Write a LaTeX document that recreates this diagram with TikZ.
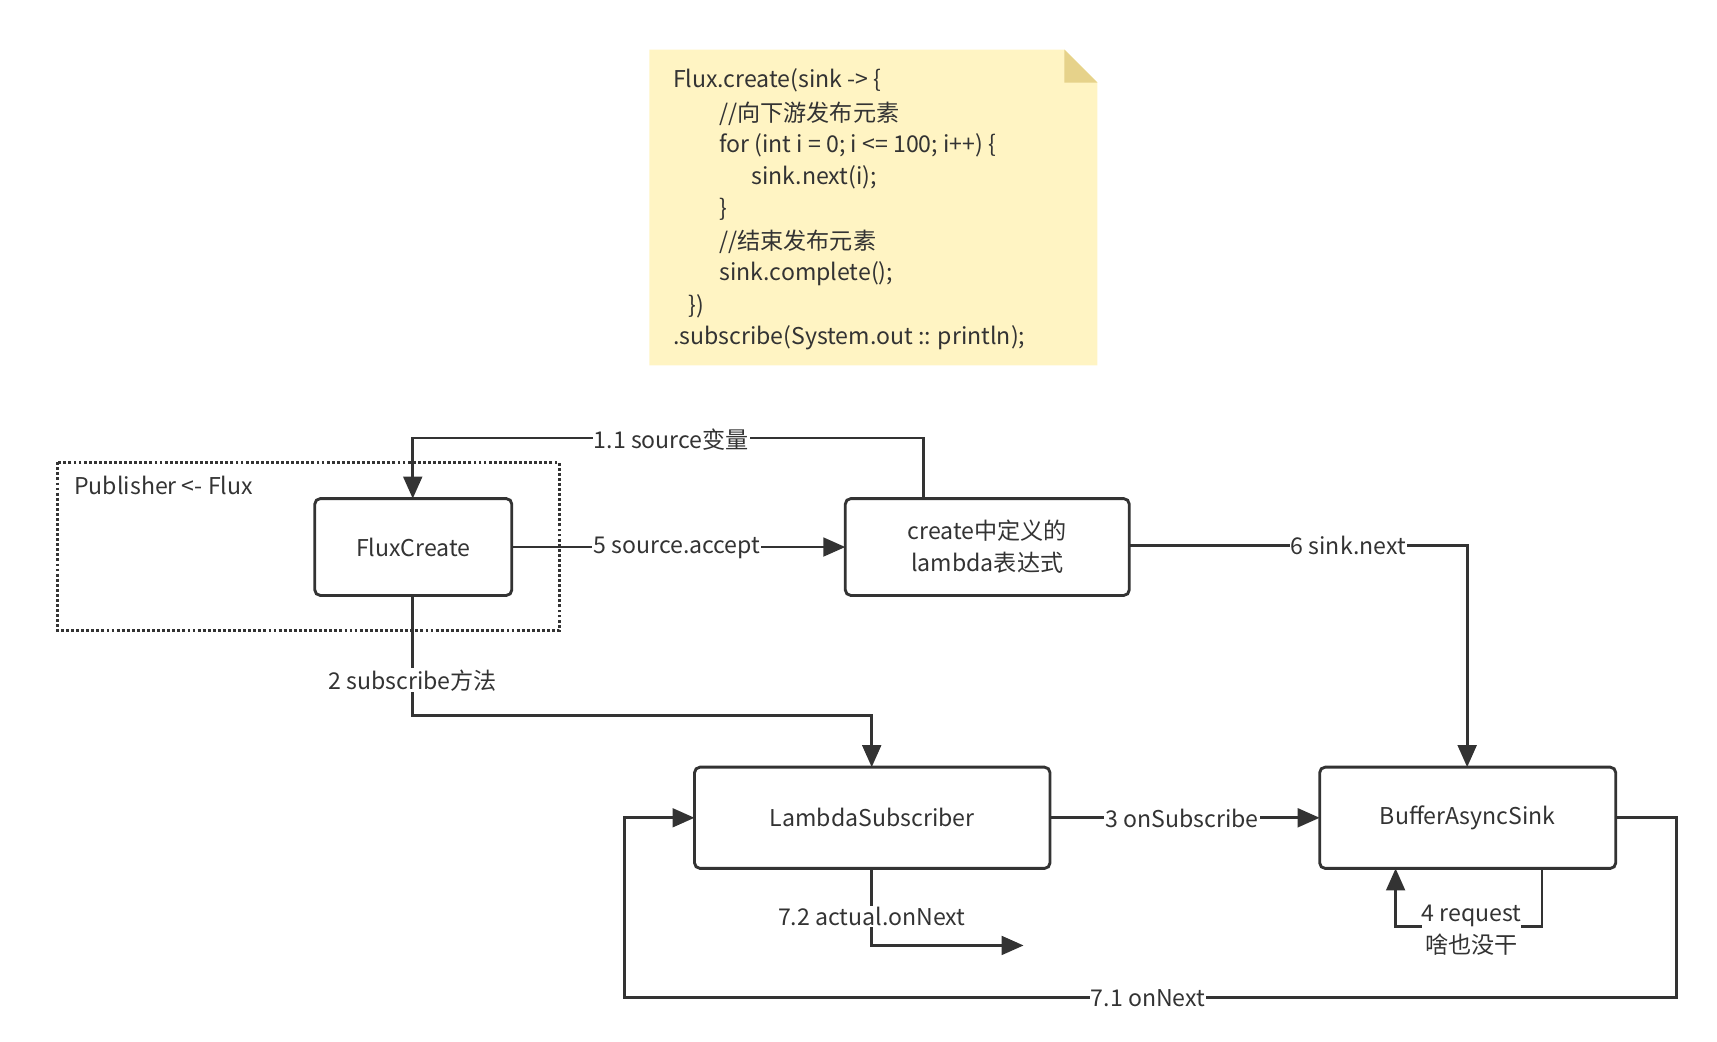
\documentclass[tikz,border=0pt]{standalone}
\usepackage{fontspec}
\setmainfont{Noto Sans CJK SC}
\usetikzlibrary{arrows.meta}
\definecolor{ink}{HTML}{333333}
\begin{document}
\begin{tikzpicture}[x=1pt,y=-1pt,
  every node/.style={font=\fontsize{21}{29}\selectfont, text=ink},
  box/.style={draw=ink, line width=2.6pt, rounded corners=5pt},
  conn/.style={draw=ink, line width=2.6pt},
  arr/.style={conn, -{Triangle[length=20pt,width=17pt]}},
  lbl/.style={fill=white, inner sep=1pt}]
\useasboundingbox (0,0) rectangle (1560,946);
% note
\fill[color={rgb,255:red,255;green,244;blue,195}] (590,45) -- (967,45) -- (997,75) -- (997,332) -- (590,332) -- cycle;
\fill[color={rgb,255:red,230;green,210;blue,138}] (967,45) -- (997,75) -- (967,75) -- cycle;
\node[anchor=west] (n1) at (608,73) {Flux.create(sink -> \{};
\node[anchor=west] (n2) at (650,103) {//向下游发布元素};
\node[anchor=west] (n3) at (650,132) {for (int i = 0; i <= 100; i++) \{};
\node[anchor=west] (n4) at (679,161) {sink.next(i);};
\node[anchor=west] (n5) at (650,190) {\}};
\node[anchor=west] (n6) at (650,220) {//结束发布元素};
\node[anchor=west] (n7) at (650,249) {sink.complete();};
\node[anchor=west] (n8) at (622,278) {\})};
\node[anchor=west] (n9) at (608,307) {.subscribe(System.out :: println);};
% dotted
\draw[ink, line width=2.6pt, dotted] (52,420) rectangle (508,573);
\node[anchor=west] (pub) at (64,441) {Publisher <- Flux};
% boxes
\draw[box] (286,453) rectangle (465,541); \node (fc) at (375.5,497) {FluxCreate};
\coordinate (fcT) at (375,453); \coordinate (fcB) at (375,541); \coordinate (fcR) at (465,497);
\draw[box] (768,453) rectangle (1026,541); \node[align=center] (cr) at (897,497) {create中定义的\\lambda表达式};
\coordinate (crL) at (768,497); \coordinate (crT) at (839,453); \coordinate (crR) at (1026,496);
\draw[box] (631,697) rectangle (954,789); \node (ls) at (792.5,743) {LambdaSubscriber};
\coordinate (lsL) at (631,743); \coordinate (lsR) at (954,743); \coordinate (lsT) at (792,697); \coordinate (lsB) at (792,789);
\draw[box] (1199,697) rectangle (1468,789); \node (bs) at (1333.5,743) {BufferAsyncSink};
\coordinate (bsL) at (1199,743); \coordinate (bsR) at (1468,743); \coordinate (bsT) at (1333,697);
\coordinate (bsB1) at (1401,789); \coordinate (bsB2) at (1268,789);
\coordinate (e72) at (930,859);
% connectors
\draw[arr] (crT) |- (375,398) -- (fcT);
\node[lbl] at (610,399) {1.1 source变量};
\draw[arr] (fcR) -- (crL);
\node[lbl] at (615,498) {5 source.accept};
\draw[arr] (crR) -| (bsT);
\node[lbl] at (1225,496) {6 sink.next};
\draw[arr] (fcB) |- (792,650) -- (lsT);
\node[lbl] at (375,618) {2 subscribe方法};
\draw[arr] (lsR) -- (bsL);
\node[lbl] at (1074,744) {3 onSubscribe};
\draw[arr] (bsB1) |- (1268,842) -- (bsB2);
\node[lbl, align=center, inner sep=0pt] at (1337,845) {4 request\\啥也没干};
\draw[arr] (bsR) -| (1523,906) -| (567,743) -- (lsL);
\node[lbl] at (1043,907) {7.1 onNext};
\draw[arr] (lsB) |- (e72);
\node[lbl] at (792,833) {7.2 actual.onNext};
\end{tikzpicture}
\end{document}
